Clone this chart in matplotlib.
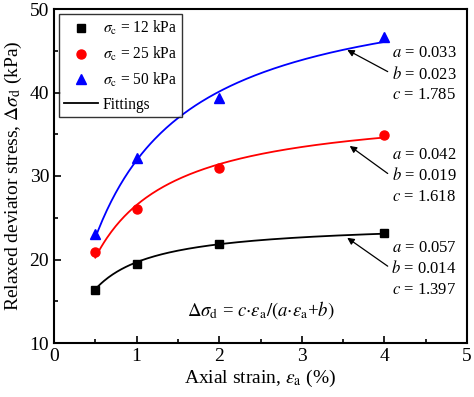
import numpy as np
import matplotlib
matplotlib.use("Agg")
import matplotlib.pyplot as plt
from matplotlib.ticker import MultipleLocator

plt.rcParams['font.family'] = ['Liberation Serif', 'DejaVu Serif']
plt.rcParams['mathtext.fontset'] = 'stix'

strain = [0.5, 1, 2, 4]
s12 = [16.4, 19.5, 21.9, 23.2]
s25 = [20.9, 26.0, 30.9, 34.9]
s50 = [23.0, 32.1, 39.3, 46.6]
params12 = (0.057, 0.014, 1.397)
params25 = (0.042, 0.019, 1.618)
params50 = (0.033, 0.023, 1.785)

fig = plt.figure(figsize=(4.74, 3.97), dpi=100)
ax = fig.add_axes([54/474, 1-343/397, 413/474, 334/397])

xf = np.linspace(0.5, 4, 200)
def fit(p):
    a, b, c = p
    return c*xf/(a*xf+b)

ax.plot(strain, s12, 's', color='black', ms=6, label=r'$\sigma_{\rm c}$ = 12 kPa', zorder=3)
ax.plot(strain, s25, 'o', color='red', ms=6.5, label=r'$\sigma_{\rm c}$ = 25 kPa', zorder=3)
ax.plot(strain, s50, '^', color='blue', ms=7, label=r'$\sigma_{\rm c}$ = 50 kPa', zorder=3)
ax.plot(xf, fit(params12), '-', color='black', lw=1.3, label='Fittings')
ax.plot(xf, fit(params25), '-', color='red', lw=1.3)
ax.plot(xf, fit(params50), '-', color='blue', lw=1.3)

ax.set_xlim(0, 5)
ax.set_ylim(10, 50)
ax.xaxis.set_major_locator(MultipleLocator(1))
ax.xaxis.set_minor_locator(MultipleLocator(0.5))
ax.yaxis.set_major_locator(MultipleLocator(10))
ax.yaxis.set_minor_locator(MultipleLocator(5))
ax.tick_params(which='both', direction='in', labelsize=14, width=1.2)
ax.tick_params(which='major', length=5)
ax.tick_params(which='minor', length=3)
for sp in ax.spines.values():
    sp.set_linewidth(1.5)

ax.set_xlabel(r'Axial strain, $\varepsilon_{\rm a}$ (%)', fontsize=14, labelpad=2)
ax.set_ylabel(r'Relaxed deviator stress, $\Delta\sigma_{\rm d}$ (kPa)', fontsize=14, labelpad=4)

leg = ax.legend(loc='upper left', fontsize=11.2, frameon=True, fancybox=False,
                edgecolor='black', borderpad=0.3, labelspacing=0.5,
                handlelength=2.2, handletextpad=0.3, borderaxespad=0.35)
leg.get_frame().set_linewidth(1.0)

def annot(p, tip, texty):
    a, b, c = p
    ys = texty
    for lab, val, y in zip(['a', 'b', 'c'], [a, b, c], ys):
        ax.text(4.87, y, r'$%s$ = %.3f' % (lab, val), ha='right', va='center', fontsize=12)
    ax.annotate('', xy=tip, xytext=(4.04, ys[1]+0.3),
                arrowprops=dict(arrowstyle='-|>', color='black', lw=0.9, mutation_scale=10,
                                shrinkA=0, shrinkB=0))

annot(params50, (3.55, 45.1), [44.7, 42.2, 39.7])
annot(params25, (3.58, 33.6), [32.5, 30.0, 27.5])
annot(params12, (3.55, 22.6), [21.4, 18.9, 16.4])

ax.text(2.5, 14.0, r'$\Delta\sigma_{\rm d}$ = $c{\cdot}\varepsilon_{\rm a}/(a{\cdot}\varepsilon_{\rm a}$+$b)$',
        ha='center', va='center', fontsize=13.5)

fig.savefig('out.png', dpi=100)
